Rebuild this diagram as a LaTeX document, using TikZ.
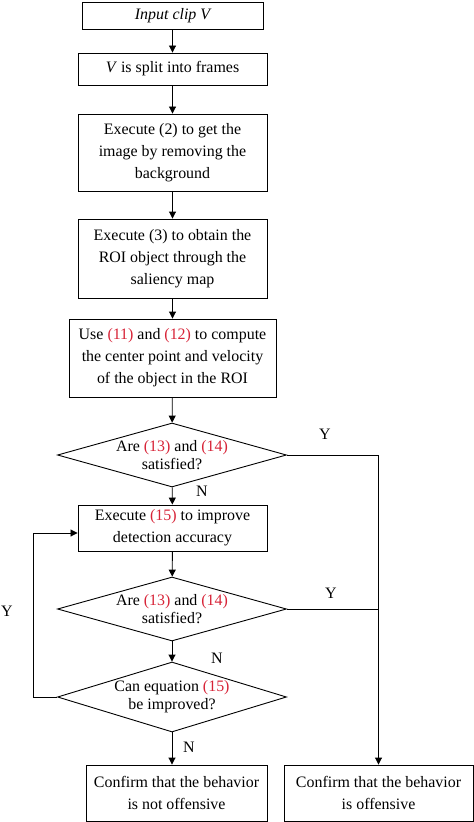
\documentclass[tikz,border=0pt]{standalone}
\usepackage{fontspec}
\setmainfont{Liberation Serif}
\usetikzlibrary{shapes.geometric,arrows.meta}

\definecolor{eqred}{RGB}{215,35,55}
\newcommand{\eqref}[1]{\textcolor{eqred}{(#1)}}

\begin{document}
\begin{tikzpicture}[x=1bp,y=-1bp,line width=0.9bp,
    font=\fontsize{16}{22}\selectfont,
    box/.style={draw,rectangle,align=center,inner sep=0pt},
    cond/.style={draw,diamond,align=center,inner sep=-8bp,
      font=\fontsize{16}{18}\selectfont,
      minimum width=229bp,minimum height=64bp,aspect=3.5},
    arr/.style={-{Triangle[length=7bp,width=7bp]}}]
        \useasboundingbox (0,0) rectangle (474,822);
        \node[box,minimum width=181bp,minimum height=27bp] (in) at (172.5,15.5) {\itshape Input clip V};
        \node[box,minimum width=189bp,minimum height=32bp] (split) at (172.5,69) {\textit{V} is split into frames};
        \node[box,minimum width=189bp,minimum height=77bp] (bg) at (172.5,152.5)
          {Execute (2) to get the\\image by removing the\\background};
        \node[box,minimum width=189bp,minimum height=79bp] (roi) at (172.5,258.5)
          {Execute (3) to obtain the\\ROI object through the\\saliency map};
        \node[box,minimum width=207bp,minimum height=78bp] (vel) at (172.5,358)
          {Use \eqref{11} and \eqref{12} to compute\\the center point and velocity\\of the object in the ROI};
        \node[cond] (cond1) at (172,455) {Are \eqref{13} and \eqref{14}\\satisfied?};
        \node[box,minimum width=189bp,minimum height=46bp] (improve) at (172.5,528)
          {Execute \eqref{15} to improve\\detection accuracy};
        \node[cond] (cond2) at (172,609) {Are \eqref{13} and \eqref{14}\\satisfied?};
        \node[cond,minimum height=70bp,aspect=3.3] (canimp) at (172,697) {Can equation \eqref{15}\\be improved?};
        \node[box,minimum width=181bp,minimum height=56bp] (notoff) at (176.5,793)
          {Confirm that the behavior\\is not offensive};
        \node[box,minimum width=189bp,minimum height=56bp] (off) at (378.5,793)
          {Confirm that the behavior\\is offensive};
        % main flow
        \draw[arr] (in) -- (split);
        \draw[arr] (split) -- (bg);
        \draw[arr] (bg) -- (roi);
        \draw[arr] (roi) -- (vel);
        \draw[arr] (vel) -- (cond1);
        \draw[arr] (cond1) -- (improve);
        \draw[arr] (improve) -- (cond2);
        \draw[arr] (cond2) -- (canimp);
        \draw[arr] (canimp.south) -- (canimp.south |- notoff.north);
        % yes branches
        \draw[arr] (cond1.east) -| (off.north);
        \draw (cond2.east) -- (cond2.east -| off.north);
        % loop back
        \coordinate (loop) at (33,697);
        \draw[arr] (canimp.west) -- (loop) |- ([yshift=-5bp]improve.west);
        % labels
        \node (y1) at (325,434) {Y};
        \node (n1) at (202,491) {N};
        \node (y2) at (331,593) {Y};
        \node (y3) at (7,611) {Y};
        \node (n2) at (217,658) {N};
        \node (n3) at (189,747) {N};
      \end{tikzpicture}
\end{document}
